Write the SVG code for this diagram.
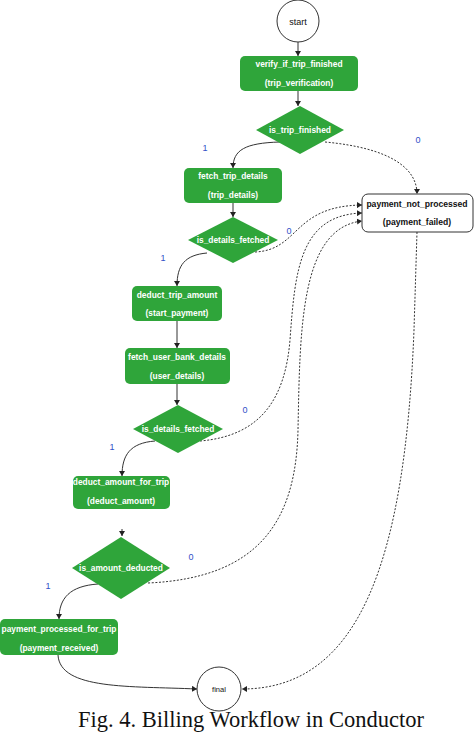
<svg xmlns="http://www.w3.org/2000/svg" width="474" height="732" viewBox="0 0 474 732">
<defs>
<marker id="ah" markerWidth="6" markerHeight="6" refX="5" refY="3" orient="auto" markerUnits="userSpaceOnUse">
<path d="M0,0 L5,3 L0,6 z" fill="#222"/>
</marker>
<style>
.task{fill:#2fa53a}
.tt{font-family:"Liberation Sans",Arial,sans-serif;font-weight:bold;font-size:8.4px;fill:#fff;text-anchor:middle}
.bt{font-family:"Liberation Sans",Arial,sans-serif;font-weight:bold;font-size:8.6px;fill:#111;text-anchor:middle}
.lbl{font-family:"Liberation Sans",Arial,sans-serif;font-size:9px;fill:#3050c8;text-anchor:middle}
.solid{fill:none;stroke:#333;stroke-width:1;marker-end:url(#ah)}
.dot{fill:none;stroke:#333;stroke-width:1;stroke-dasharray:2 1.6;marker-end:url(#ah)}
.circ{fill:#fff;stroke:#333;stroke-width:1}
</style>
</defs>
<rect width="474" height="732" fill="#fff"/>
<g id="connectors">
<path class="solid" d="M298 42 L298 56"/>
<path class="solid" d="M298 91 L298 106"/>
<path class="solid" d="M280 142 C245 143 233 150 233 168"/>
<path class="solid" d="M233 203 L233 217"/>
<path class="solid" d="M207 253 C185 255 177 265 177 286"/>
<path class="solid" d="M177 321 L177 348"/>
<path class="solid" d="M177 384 L177 405"/>
<path class="solid" d="M155 441 C130 443 122 455 122 476"/>
<path class="solid" d="M122 529 L122 536"/>
<path class="solid" d="M98 584 C70 586 59 598 59 619"/>
<path class="solid" d="M58 655 C60 690 130 686 197 689"/>
<path class="dot" d="M325 142 C390 148 417 168 417 194"/>
<path class="dot" d="M255 252 C300 250 292 206 362 205"/>
<path class="dot" d="M200 441 C260 436 285 400 290 340 C295 270 300 215 362 213"/>
<path class="dot" d="M148 583 C260 578 296 520 298 430 C300 330 300 228 362 221"/>
<path class="dot" d="M417 232 L414 330 C405 560 360 689 242 689"/>
<text class="lbl" x="418" y="143">0</text>
<text class="lbl" x="205" y="151">1</text>
<text class="lbl" x="289" y="234">0</text>
<text class="lbl" x="163" y="261">1</text>
<text class="lbl" x="245" y="413">0</text>
<text class="lbl" x="112" y="450">1</text>
<text class="lbl" x="191" y="560">0</text>
<text class="lbl" x="48" y="589">1</text>
</g>
<g id="start">
<circle class="circ" cx="298" cy="21" r="21"/>
<text x="298" y="24.5" font-family="Liberation Sans,Arial,sans-serif" font-size="9" fill="#111" text-anchor="middle">start</text>
</g>
<g id="verify_if_trip_finished">
<rect class="task" x="240" y="56" width="118" height="35" rx="5"/>
<text class="tt" x="299" y="67">verify_if_trip_finished</text>
<text class="tt" x="299" y="86">(trip_verification)</text>
</g>
<g id="is_trip_finished">
<polygon class="task" points="300,106 344,130 300,154 256,130"/>
<text class="tt" x="300" y="133">is_trip_finished</text>
</g>
<g id="fetch_trip_details">
<rect class="task" x="184" y="168" width="98" height="35" rx="5"/>
<text class="tt" x="233" y="179">fetch_trip_details</text>
<text class="tt" x="233" y="198">(trip_details)</text>
</g>
<g id="is_details_fetched_1">
<polygon class="task" points="233,217 278,240 233,263 188,240"/>
<text class="tt" x="233" y="243">is_details_fetched</text>
</g>
<g id="payment_not_processed">
<rect x="362" y="194" width="111" height="38" rx="6" fill="#fff" stroke="#333" stroke-width="1"/>
<text class="bt" x="417" y="207">payment_not_processed</text>
<text class="bt" x="417" y="225">(payment_failed)</text>
</g>
<g id="deduct_trip_amount">
<rect class="task" x="132" y="286" width="90" height="35" rx="5"/>
<text class="tt" x="177" y="298">deduct_trip_amount</text>
<text class="tt" x="177" y="316">(start_payment)</text>
</g>
<g id="fetch_user_bank_details">
<rect class="task" x="125" y="348" width="105" height="36" rx="5"/>
<text class="tt" x="177" y="360">fetch_user_bank_details</text>
<text class="tt" x="177" y="379">(user_details)</text>
</g>
<g id="is_details_fetched_2">
<polygon class="task" points="178,405 223,429 178,453 133,429"/>
<text class="tt" x="178" y="432">is_details_fetched</text>
</g>
<g id="deduct_amount_for_trip">
<rect class="task" x="73" y="476" width="97" height="33" rx="5"/>
<text class="tt" x="121" y="485">deduct_amount_for_trip</text>
<text class="tt" x="121" y="504">(deduct_amount)</text>
</g>
<g id="is_amount_deducted">
<polygon class="task" points="121,537 170,568 121,599 72,568"/>
<text class="tt" x="121" y="571">is_amount_deducted</text>
</g>
<g id="payment_processed_for_trip">
<rect class="task" x="0" y="619" width="118" height="36" rx="5"/>
<text class="tt" x="59" y="632">payment_processed_for_trip</text>
<text class="tt" x="59" y="651">(payment_received)</text>
</g>
<g id="final">
<circle class="circ" cx="219" cy="689" r="22"/>
<text x="219" y="692" font-family="Liberation Sans,Arial,sans-serif" font-size="7.5" fill="#111" text-anchor="middle">final</text>
</g>
<text x="78" y="727" font-family="Liberation Serif,Times New Roman,serif" font-size="22.5" fill="#111">Fig. 4. Billing Workflow in Conductor</text>
</svg>
